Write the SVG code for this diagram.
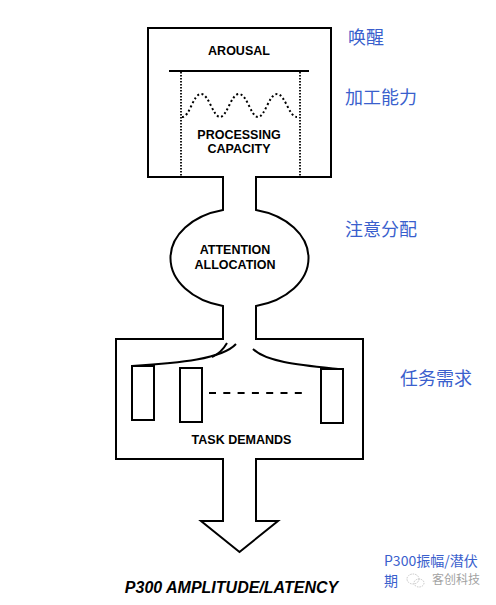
<svg xmlns="http://www.w3.org/2000/svg" width="496" height="605" viewBox="0 0 496 605">
<style>
.o{fill:none;stroke:#000;stroke-width:2;stroke-linejoin:miter}
.t{font-family:"Liberation Sans",Arial,sans-serif;font-weight:bold;font-size:12.5px;fill:#000;text-anchor:middle}
.cn{font-family:"Noto Sans CJK SC","Noto Sans",sans-serif;font-size:18px;fill:#3a5fcd}
.cs{font-family:"Noto Sans CJK SC","Noto Sans",sans-serif;font-size:14px;fill:#3a5fcd}
.dot{fill:none;stroke:#000;stroke-width:1.8;stroke-dasharray:1.5 1.5}
</style>
<rect width="496" height="605" fill="#fff"/>
<g id="outline">
<path class="o" d="M148 28 H331 V177 H256 V210 A69 49.43 0 0 1 256 306 V339 H363 V459 H256 V521 H278 L239.5 552 L201 521 H223 V459 H116 V339 H223 V306 A69 49.43 0 0 1 223 210 V177 H148 Z"/>
</g>
<g id="arousal">
<text class="t" x="239" y="55">AROUSAL</text>
</g>
<g id="processing-capacity">
<line class="o" x1="169" y1="71" x2="309" y2="71"/>
<line class="dot" x1="181" y1="72" x2="181" y2="176"/>
<line class="dot" x1="300" y1="72" x2="300" y2="176"/>
<path d="M182 117 C190 117 193 94 201 94 S213 117 220 117 S231 94 239 94 S251 117 258 117 S269 94 277 94 S289 117 297 117" fill="none" stroke="#000" stroke-width="2" stroke-dasharray="2 2.5"/>
<text class="t" x="239" y="139">PROCESSING</text>
<text class="t" x="239" y="152.5">CAPACITY</text>
</g>
<g id="attention-allocation">
<text class="t" x="235" y="253.5">ATTENTION</text>
<text class="t" x="235" y="269">ALLOCATION</text>
</g>
<g id="task-demands">
<rect class="o" x="132" y="366" width="22" height="54"/>
<rect class="o" x="180" y="368" width="22" height="54"/>
<rect class="o" x="321" y="369" width="22" height="54"/>
<line x1="209" y1="393" x2="302" y2="393" stroke="#000" stroke-width="2" stroke-dasharray="7 7.3"/>
<text class="t" x="241.5" y="443.5">TASK DEMANDS</text>
</g>
<g id="connectors">
<path class="o" d="M132 366 C180 363 222 359 236 344"/>
<path class="o" d="M227 343 C223 350 219 354 212 357"/>
<path class="o" d="M253 349 C266 362 300 365 338 369"/>
</g>
<g id="output">
<text x="231.5" y="592.5" font-family="Liberation Sans,Arial,sans-serif" font-weight="bold" font-style="italic" font-size="16" text-anchor="middle">P300 AMPLITUDE/LATENCY</text>
</g>
<g id="labels">
<text class="cn" x="348" y="44">唤醒</text>
<text class="cn" x="345" y="104">加工能力</text>
<text class="cn" x="345" y="236">注意分配</text>
<text class="cn" x="400" y="385">任务需求</text>
<text class="cs" x="384" y="566">P300振幅/潜伏</text>
<text class="cs" x="384" y="586">期</text>
</g>
<g id="watermark" opacity="0.55">
<ellipse cx="413" cy="579" rx="6" ry="5" fill="none" stroke="#999" stroke-width="1" stroke-dasharray="1.5 1"/>
<ellipse cx="419" cy="583" rx="5" ry="4" fill="none" stroke="#999" stroke-width="1" stroke-dasharray="1.5 1"/>
<text x="432" y="584" font-family="Noto Sans CJK SC,sans-serif" font-size="12" fill="#555">客创科技</text>
</g>
</svg>
